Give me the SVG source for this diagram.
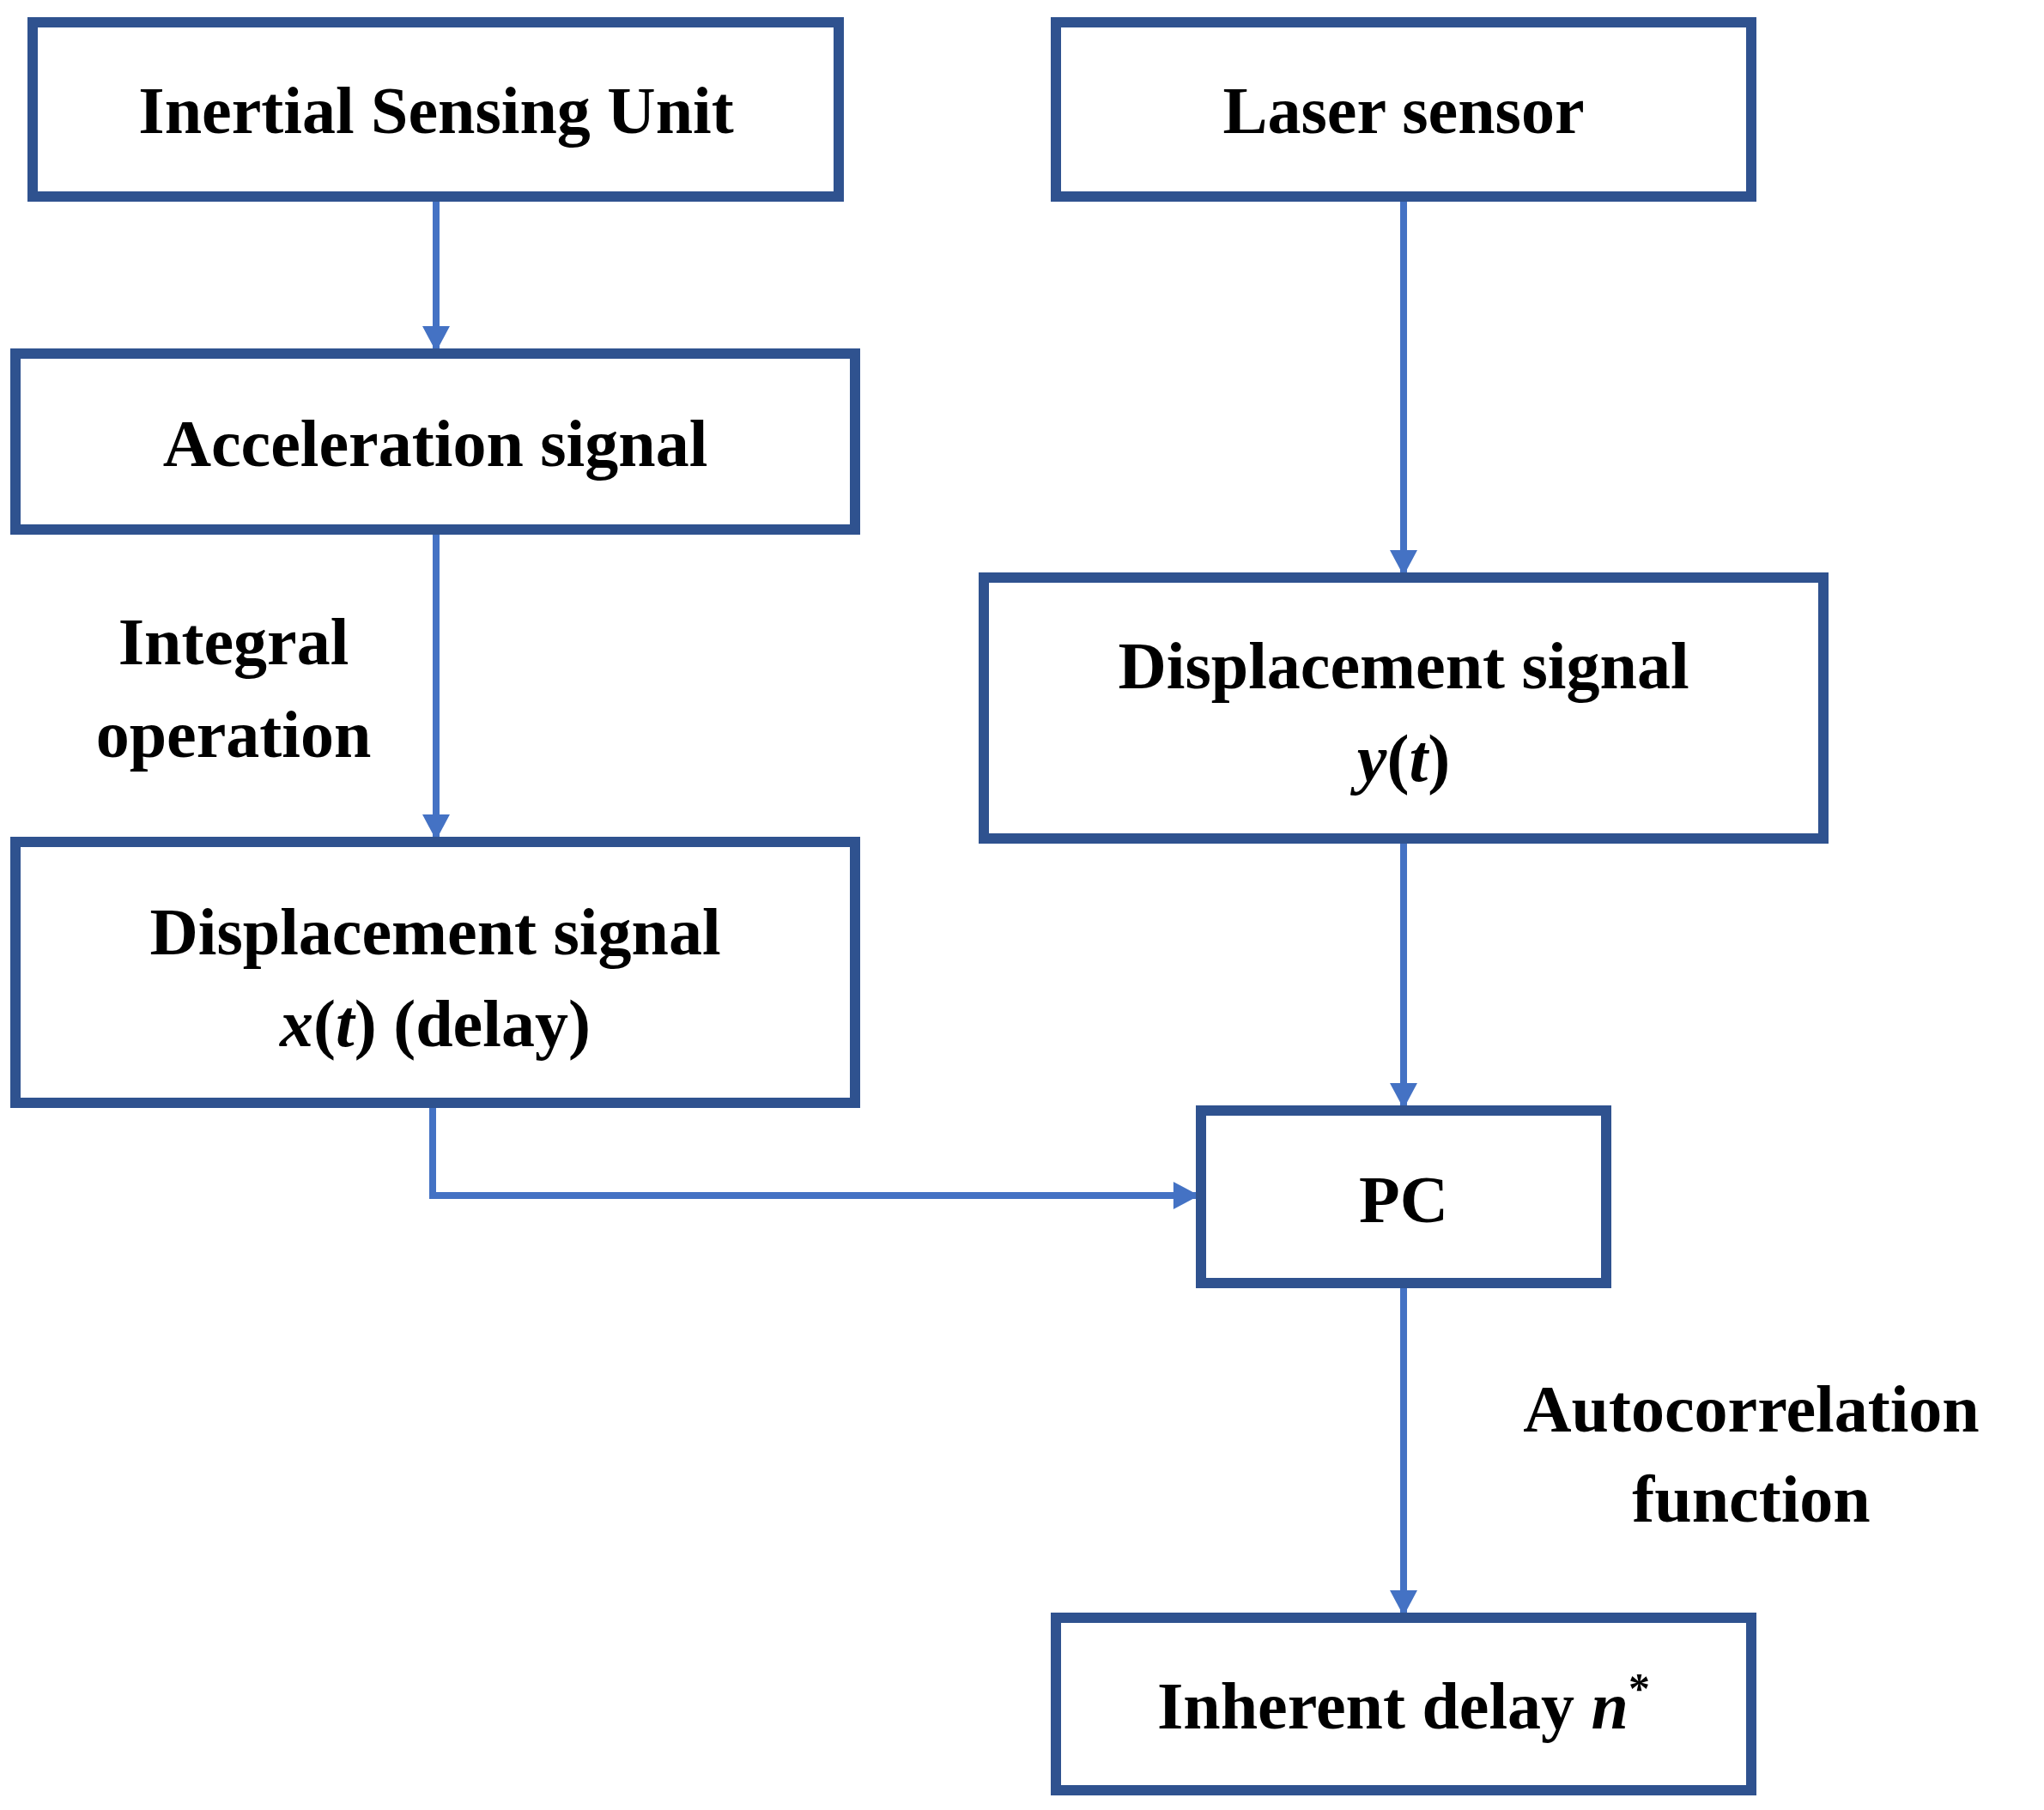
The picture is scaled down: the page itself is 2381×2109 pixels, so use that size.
<svg xmlns="http://www.w3.org/2000/svg" width="2381" height="2109" viewBox="0 0 2381 2109">
<style>
.box{fill:#fff;stroke:#2F528F;stroke-width:12}
.t{font-family:"Liberation Serif",serif;font-weight:bold;font-size:78px;fill:#000;text-anchor:middle}
.i{font-style:italic}
.c{fill:none;stroke:#4472C4;stroke-width:8}
</style>
<defs>
<marker id="a" markerUnits="userSpaceOnUse" markerWidth="34" markerHeight="32" refX="32" refY="17" orient="auto" viewBox="0 0 32 34">
<path d="M0,0 L32,17 L0,34 Z" fill="#4472C4"/>
</marker>
</defs>
<rect width="2381" height="2109" fill="#fff"/>
<g id="connectors">
<path class="c" d="M508,229 V410" marker-end="url(#a)"/>
<path class="c" d="M508,617 V979" marker-end="url(#a)"/>
<path class="c" d="M1635,229 V671" marker-end="url(#a)"/>
<path class="c" d="M1635,977 V1292" marker-end="url(#a)"/>
<path class="c" d="M504,1285 V1393 H1397" marker-end="url(#a)"/>
<path class="c" d="M1635,1495 V1883" marker-end="url(#a)"/>
<text class="t" x="272" y="774">Integral</text>
<text class="t" x="272" y="882">operation</text>
<text class="t" x="2040" y="1668">Autocorrelation</text>
<text class="t" x="2040" y="1773">function</text>
</g>
<g id="isu"><rect class="box" x="38" y="26" width="939" height="203"/><text class="t" x="508" y="155">Inertial Sensing Unit</text></g>
<g id="acc"><rect class="box" x="18" y="412" width="978" height="205"/><text class="t" x="507" y="543">Acceleration signal</text></g>
<g id="dispx"><rect class="box" x="18" y="981" width="978" height="304"/><text class="t" x="507" y="1112">Displacement signal</text><text class="t" x="507" y="1219"><tspan class="i">x</tspan>(<tspan class="i">t</tspan>) (delay)</text></g>
<g id="laser"><rect class="box" x="1230" y="26" width="810" height="203"/><text class="t" x="1635" y="155">Laser sensor</text></g>
<g id="dispy"><rect class="box" x="1146" y="673" width="978" height="304"/><text class="t" x="1635" y="802">Displacement signal</text><text class="t" x="1635" y="910"><tspan class="i">y</tspan>(<tspan class="i">t</tspan>)</text></g>
<g id="pc"><rect class="box" x="1399" y="1294" width="472" height="201"/><text class="t" x="1635" y="1424">PC</text></g>
<g id="delay"><rect class="box" x="1230" y="1885" width="810" height="201"/><text class="t" x="1635" y="2014">Inherent delay <tspan class="i">n</tspan><tspan font-size="50" dy="-30">*</tspan></text></g>
</svg>
